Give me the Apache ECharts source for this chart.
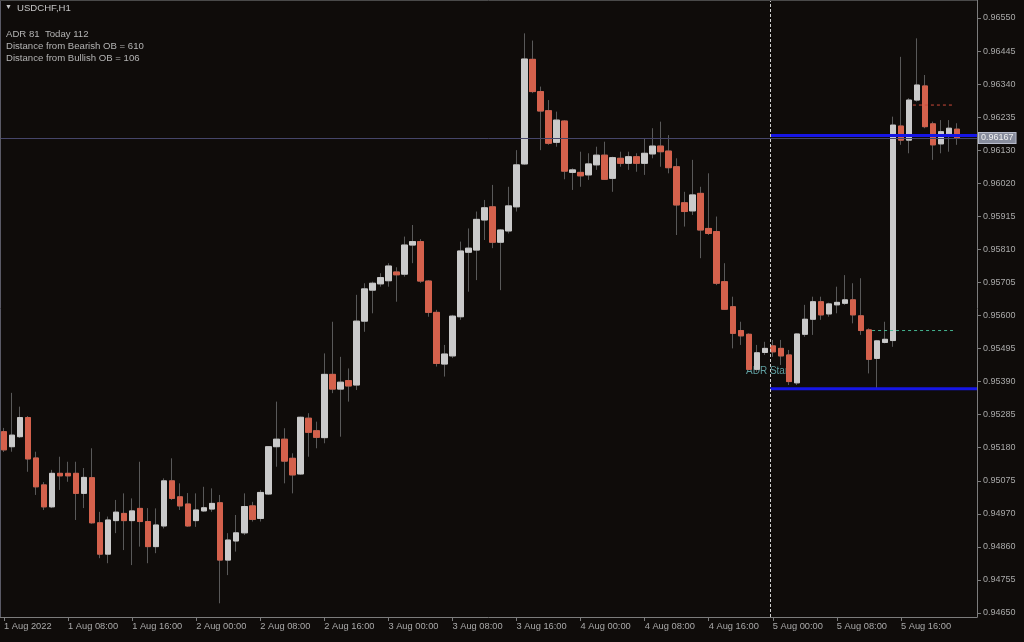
<!DOCTYPE html>
<html><head><meta charset="utf-8">
<script src="https://cdn.jsdelivr.net/npm/echarts@6.0.0/dist/echarts.min.js"></script>
<style>html,body{margin:0;padding:0;background:#0f0c0a;}#c{width:1024px;height:642px;}</style>
</head><body><div id="c"></div><script>
// ---- data (USDCHF H1, 1 Aug 2022 00:00 .. 5 Aug 2022 23:00) ----
const opens = [
0.95229,0.95181,0.95213,0.95274,0.95145,0.95059,0.94989,0.95096,0.95096,0.95096,
0.95032,0.95082,0.94938,0.94838,0.94945,0.94968,0.94945,0.94984,0.94942,0.94862,
0.94928,0.95072,0.95021,0.94998,0.94945,0.94976,0.94982,0.95002,0.94819,0.94880,
0.94906,0.94992,0.94952,0.95030,0.95181,0.95205,0.95144,0.95094,0.95272,0.95232,
0.95210,0.95412,0.95365,0.95392,0.95378,0.95582,0.95681,0.95701,0.95711,0.95739,
0.95732,0.95825,0.95836,0.95710,0.95610,0.95445,0.95471,0.95596,0.95802,0.95809,
0.95905,0.95947,0.95834,0.95870,0.95947,0.96084,0.96418,0.96315,0.96254,0.96153,
0.96221,0.96057,0.96057,0.96049,0.96081,0.96112,0.96038,0.96102,0.96086,0.96107,
0.96086,0.96116,0.96141,0.96125,0.96075,0.95960,0.95934,0.95990,0.95878,0.95868,
0.95708,0.95628,0.95552,0.95540,0.95428,0.95482,0.95503,0.95495,0.95474,0.95385,
0.95540,0.95588,0.95644,0.95605,0.95634,0.95639,0.95650,0.95599,0.95554,0.95463,
0.95514,0.95520,0.96205,0.96160,0.96288,0.96333,0.96212,0.96148,0.96180,0.96195];
const closes = [
0.95171,0.95218,0.95274,0.95142,0.95053,0.94989,0.95096,0.95088,0.95088,0.95032,
0.95083,0.94938,0.94838,0.94947,0.94972,0.94945,0.94976,0.94942,0.94862,0.94931,
0.95072,0.95016,0.94992,0.94928,0.94979,0.94986,0.95000,0.94819,0.94883,0.94906,
0.94990,0.94949,0.95035,0.95181,0.95205,0.95135,0.95091,0.95275,0.95227,0.95211,
0.95412,0.95365,0.95387,0.95375,0.95582,0.95685,0.95703,0.95721,0.95758,0.95730,
0.95825,0.95836,0.95710,0.95610,0.95447,0.95477,0.95598,0.95806,0.95815,0.95907,
0.95944,0.95834,0.95873,0.95950,0.96081,0.96419,0.96315,0.96253,0.96150,0.96224,
0.96061,0.96065,0.96046,0.96084,0.96112,0.96035,0.96104,0.96086,0.96107,0.96086,
0.96118,0.96141,0.96123,0.96072,0.95953,0.95932,0.95985,0.95873,0.95862,0.95703,
0.95620,0.95543,0.95535,0.95428,0.95481,0.95495,0.95484,0.95471,0.95389,0.95541,
0.95588,0.95644,0.95602,0.95637,0.95642,0.95650,0.95602,0.95552,0.95460,0.95519,
0.95524,0.96208,0.96160,0.96288,0.96336,0.96203,0.96145,0.96187,0.96198,0.96167];
const lows = [
0.95164,0.95165,0.95209,0.95101,0.95027,0.94979,0.94985,0.95043,0.95069,0.94947,
0.94985,0.94935,0.94825,0.94809,0.94905,0.94851,0.94803,0.94862,0.94809,0.94841,
0.94920,0.95011,0.94979,0.94925,0.94925,0.94973,0.94973,0.94681,0.94771,0.94846,
0.94899,0.94942,0.94942,0.95027,0.95117,0.95064,0.95032,0.95091,0.95149,0.95176,
0.95192,0.95352,0.95213,0.95325,0.95362,0.95548,0.95607,0.95692,0.95692,0.95644,
0.95724,0.95767,0.95704,0.95596,0.95437,0.95405,0.95464,0.95586,0.95676,0.95713,
0.95841,0.95815,0.95681,0.95862,0.95932,0.96081,0.96310,0.96128,0.96145,0.96139,
0.96035,0.96001,0.96011,0.96033,0.96065,0.96033,0.95995,0.96075,0.96065,0.96059,
0.96049,0.96102,0.96075,0.96054,0.95857,0.95884,0.95921,0.95783,0.95857,0.95697,
0.95618,0.95495,0.95506,0.95426,0.95420,0.95474,0.95468,0.95442,0.95378,0.95378,
0.95532,0.95538,0.95586,0.95596,0.95607,0.95634,0.95575,0.95538,0.95415,0.95366,
0.95511,0.95500,0.96145,0.96118,0.96283,0.96198,0.96097,0.96118,0.96123,0.96145];
const highs = [
0.95241,0.95353,0.95309,0.95279,0.95165,0.95068,0.95107,0.95149,0.95133,0.95133,
0.95113,0.95176,0.94973,0.94958,0.95011,0.95032,0.95016,0.95133,0.94985,0.94984,
0.95080,0.95144,0.95064,0.95033,0.95032,0.95053,0.95048,0.95027,0.94905,0.94963,
0.95032,0.95005,0.95043,0.95183,0.95325,0.95240,0.95160,0.95277,0.95288,0.95261,
0.95479,0.95580,0.95468,0.95431,0.95666,0.95703,0.95708,0.95735,0.95767,0.95754,
0.95852,0.95889,0.95844,0.95713,0.95618,0.95506,0.95602,0.95836,0.95878,0.95932,
0.95969,0.96017,0.95876,0.96011,0.96128,0.96501,0.96478,0.96331,0.96288,0.96251,
0.96224,0.96070,0.96123,0.96118,0.96139,0.96155,0.96107,0.96123,0.96123,0.96118,
0.96166,0.96198,0.96219,0.96176,0.96102,0.95995,0.96097,0.96011,0.96054,0.95916,
0.95767,0.95660,0.95580,0.95543,0.95506,0.95516,0.95522,0.95522,0.95490,0.95543,
0.95634,0.95660,0.95660,0.95641,0.95692,0.95729,0.95703,0.95719,0.95559,0.95522,
0.95580,0.96235,0.96426,0.96294,0.96485,0.96368,0.96219,0.96224,0.96224,0.96214];

const days = ['1 Aug','2 Aug','3 Aug','4 Aug','5 Aug'];
const xTickLabels = ['1 Aug 2022','1 Aug 08:00','1 Aug 16:00','2 Aug 00:00','2 Aug 08:00','2 Aug 16:00',
  '3 Aug 00:00','3 Aug 08:00','3 Aug 16:00','4 Aug 00:00','4 Aug 08:00','4 Aug 16:00',
  '5 Aug 00:00','5 Aug 08:00','5 Aug 16:00'];
const yTickLabels = ['0.94650','0.94755','0.94860','0.94970','0.95075','0.95180','0.95285','0.95390',
  '0.95495','0.95600','0.95705','0.95810','0.95915','0.96020','0.96130','0.96235','0.96340','0.96445','0.96550'];
const yTickLow = 0.94650, yTickHigh = 0.96550;

const infoLines = ['ADR 81  Today 112','Distance from Bearish OB = 610','Distance from Bullish OB = 106'];
const symbolTitle = 'USDCHF,H1';
const lastPrice = 0.96167;
// annotation levels: [startBar, endBar, price]
const adrStartBar = 95.68;
const blueHigh = [95.68, 121.5, 0.96175];
const blueLow = [95.68, 121.5, 0.95366];
const redLevel = [113.5, 118.5, 0.96272];
const greenLevel = [108.4, 118.5, 0.95552];

// ---- build ----
const categories = [];
days.forEach(d => { for (let h = 0; h < 24; h++) categories.push(d + ' ' + String(h).padStart(2,'0') + ':00'); });
categories.push('', '');
const N = categories.length;

const wickData = opens.map((o,i) => [o, closes[i], lows[i], highs[i]]);
const bodyData = opens.map((o,i) => [o, closes[i], Math.min(o,closes[i]), Math.max(o,closes[i])]);

const plotTop = 0, plotBottomY = 617, tickTopY = 18, tickBottomY = 613;
const perPx = (yTickHigh - yTickLow) / (tickBottomY - tickTopY);
const yMin = yTickLow - (plotBottomY - tickBottomY) * perPx;
const yMax = yTickHigh + (tickTopY - plotTop) * perPx;

const FONT = "'Liberation Sans', Arial, sans-serif";
const axisCol = '#7c7c7c', labelCol = '#a9a9a9';
const isTick = (i) => i % 8 === 0 && !!xTickLabels[i / 8];

const seg = (a) => [[a[0], a[2]], [a[1], a[2]]];

const chart = echarts.init(document.getElementById('c'), null, {renderer:'canvas'});
chart.setOption({
  backgroundColor: '#0f0c0a',
  animation: false,
  grid: [
    {left: -1, right: 47, top: plotTop, bottom: 642 - plotBottomY},
    {left: -1, right: 47, top: tickTopY, bottom: 642 - tickBottomY}
  ],
  xAxis: [
    {type:'category', gridIndex:0, data:categories, boundaryGap:true,
     axisLine:{show:true, onZero:false, lineStyle:{color:axisCol, width:1}},
     axisTick:{show:true, alignWithLabel:true, interval:isTick, length:4, lineStyle:{color:axisCol}},
     axisLabel:{show:true, interval:isTick, formatter:(v,i)=> isTick(i) ? xTickLabels[i/8] : '',
       align:'left', margin:5, color:labelCol, fontSize:9.3, fontFamily:FONT},
     splitLine:{show:false}},
    {type:'value', gridIndex:0, min:-0.5, max:N-0.5, show:false},
    {type:'category', gridIndex:1, data:['x'], show:false}
  ],
  yAxis: [
    {type:'value', gridIndex:0, position:'right', min:yMin, max:yMax, scale:true,
     axisLine:{show:true, onZero:false, lineStyle:{color:axisCol}}, axisTick:{show:false}, axisLabel:{show:false}, splitLine:{show:false}},
    {type:'category', gridIndex:1, position:'right', data:yTickLabels, boundaryGap:false,
     axisLine:{show:false, onZero:false}, axisTick:{show:true, length:4, interval:0, lineStyle:{color:axisCol}},
     axisLabel:{show:true, interval:0, margin:6, color:labelCol, fontSize:9, fontFamily:FONT},
     splitLine:{show:false}}
  ],
  series: [
    {type:'line', xAxisIndex:1, yAxisIndex:0, data:[], z:1, silent:true,
     markLine:{symbol:'none', silent:true, animation:false, precision:6,
       data:[{xAxis: adrStartBar, lineStyle:{color:'#cfcfcf', type:[3,2], width:1}, label:{show:false}},
             {yAxis: lastPrice, lineStyle:{color:'#46466a', type:'solid', width:1},
              label:{show:true, position:'end', distance:2, formatter: lastPrice.toFixed(5),
                     color:'#eeeeee', backgroundColor:'#878c9c', borderColor:'#b8bccb', borderWidth:1,
                     padding:[1,2,0,2], fontSize:9, fontFamily:FONT}}]}},
    {type:'candlestick', xAxisIndex:0, yAxisIndex:0, data:wickData, barWidth:6, z:2,
     itemStyle:{color:'#595959', color0:'#595959', borderColor:'#595959', borderColor0:'#595959', borderWidth:1}},
    {type:'candlestick', xAxisIndex:0, yAxisIndex:0, data:bodyData, barWidth:6, z:3,
     itemStyle:{color:'#cacaca', color0:'#d4614c', borderColor:'#cacaca', borderColor0:'#d4614c', borderWidth:1}},
    {type:'line', xAxisIndex:1, yAxisIndex:0, data:seg(blueHigh), showSymbol:false, z:4, silent:true,
     lineStyle:{color:'#1616e6', width:3}},
    {type:'line', xAxisIndex:1, yAxisIndex:0, data:seg(blueLow), showSymbol:false, z:4, silent:true,
     lineStyle:{color:'#1616e6', width:3}},
    {type:'line', xAxisIndex:1, yAxisIndex:0, data:seg(redLevel), showSymbol:false, z:4, silent:true,
     lineStyle:{color:'#cc4a3a', width:1, type:[3,3]}},
    {type:'line', xAxisIndex:1, yAxisIndex:0, data:seg(greenLevel), showSymbol:false, z:4, silent:true,
     lineStyle:{color:'#45b591', width:1, type:[3,3]}}
  ],
  graphic: [
    {type:'line', z:10, shape:{x1:0.5, y1:0, x2:0.5, y2:617}, style:{stroke:'#5a5a66', lineWidth:1}},
    {type:'line', z:10, shape:{x1:0, y1:0.5, x2:977, y2:0.5}, style:{stroke:'#4a4a4a', lineWidth:1}},
    {type:'text', z:10, left:5, top:4, style:{text:'\u25BC', fill:'#c8c8c8', font:'7px ' + FONT}},
    {type:'text', z:10, left:17, top:3, style:{text:symbolTitle, fill:'#c4c4c4', font:'9.6px ' + FONT}},
    {type:'text', z:10, left:6, top:29, style:{text:infoLines[0], fill:'#b4b4b4', font:'9.6px ' + FONT}},
    {type:'text', z:10, left:6, top:41, style:{text:infoLines[1], fill:'#b4b4b4', font:'9.6px ' + FONT}},
    {type:'text', z:10, left:6, top:53, style:{text:infoLines[2], fill:'#b4b4b4', font:'9.6px ' + FONT}},
    {type:'text', z:1, left:746, top:366, style:{text:'ADR Start', fill:'#5f9ea0', font:'10px ' + FONT}}
  ]
});
</script></body></html>
